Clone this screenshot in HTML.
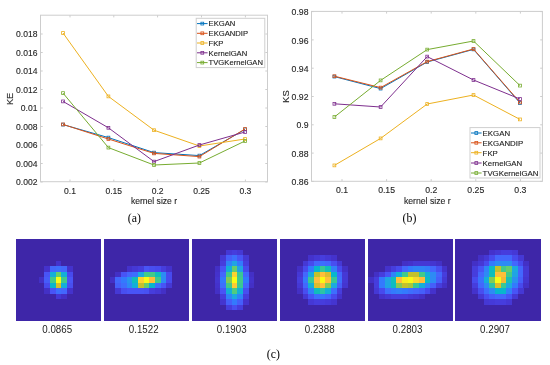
<!DOCTYPE html>
<html><head><meta charset="utf-8"><title>Figure</title>
<style>
html,body{margin:0;padding:0;background:#fff;}
body{width:550px;height:365px;overflow:hidden;}
svg{display:block;}
.t{font-family:"Liberation Sans",Arial,Helvetica,sans-serif;fill:#262626;stroke:#262626;stroke-width:.12px;}
.s{font-family:"Liberation Serif","Times New Roman",serif;fill:#000;}
.l{font-family:"Liberation Sans",Arial,sans-serif;fill:#1c1c1c;}
</style></head><body>
<svg width="550" height="365" viewBox="0 0 550 365">
<rect width="550" height="365" fill="#fff"/>

<g fill="none" stroke="#cdcdcd" stroke-width="1">
<rect x="40.5" y="15.2" width="227.0" height="166.5"/>
<path d="M70 181.7v-2.2M70 15.2v2.2M113.8 181.7v-2.2M113.8 15.2v2.2M157.6 181.7v-2.2M157.6 15.2v2.2M201.5 181.7v-2.2M201.5 15.2v2.2M245.4 181.7v-2.2M245.4 15.2v2.2M40.5 182.0h2.2M267.5 182.0h-2.2M40.5 163.5h2.2M267.5 163.5h-2.2M40.5 145.0h2.2M267.5 145.0h-2.2M40.5 126.5h2.2M267.5 126.5h-2.2M40.5 108.0h2.2M267.5 108.0h-2.2M40.5 89.5h2.2M267.5 89.5h-2.2M40.5 71.0h2.2M267.5 71.0h-2.2M40.5 52.5h2.2M267.5 52.5h-2.2M40.5 34.0h2.2M267.5 34.0h-2.2"/></g>
<text class="t" x="37.5" y="185.0" font-size="8.55" text-anchor="end">0.002</text>
<text class="t" x="37.5" y="166.5" font-size="8.55" text-anchor="end">0.004</text>
<text class="t" x="37.5" y="148.0" font-size="8.55" text-anchor="end">0.006</text>
<text class="t" x="37.5" y="129.5" font-size="8.55" text-anchor="end">0.008</text>
<text class="t" x="37.5" y="111.0" font-size="8.55" text-anchor="end">0.01</text>
<text class="t" x="37.5" y="92.5" font-size="8.55" text-anchor="end">0.012</text>
<text class="t" x="37.5" y="74.0" font-size="8.55" text-anchor="end">0.014</text>
<text class="t" x="37.5" y="55.5" font-size="8.55" text-anchor="end">0.016</text>
<text class="t" x="37.5" y="37.0" font-size="8.55" text-anchor="end">0.018</text>
<text class="t" x="70" y="193.5" font-size="8.55" text-anchor="middle">0.1</text>
<text class="t" x="113.8" y="193.5" font-size="8.55" text-anchor="middle">0.15</text>
<text class="t" x="157.6" y="193.5" font-size="8.55" text-anchor="middle">0.2</text>
<text class="t" x="201.5" y="193.5" font-size="8.55" text-anchor="middle">0.25</text>
<text class="t" x="245.4" y="193.5" font-size="8.55" text-anchor="middle">0.3</text>
<text class="t" x="154" y="204.0" font-size="8.55" text-anchor="middle">kernel size r</text>
<text class="t" transform="translate(13.2 98.9) rotate(-90)" font-size="9.32" text-anchor="middle">KE</text>
<polyline points="63.0,124.6 108.4,137.6 154.0,152.6 199.4,155.6 245.0,129.4" fill="none" stroke="#0072bd" stroke-width="1" stroke-linejoin="round"/>
<rect x="61.6" y="123.2" width="2.8" height="2.8" fill="none" stroke="#0072bd" stroke-width="0.8"/>
<rect x="107.0" y="136.2" width="2.8" height="2.8" fill="none" stroke="#0072bd" stroke-width="0.8"/>
<rect x="152.6" y="151.2" width="2.8" height="2.8" fill="none" stroke="#0072bd" stroke-width="0.8"/>
<rect x="198.0" y="154.2" width="2.8" height="2.8" fill="none" stroke="#0072bd" stroke-width="0.8"/>
<rect x="243.6" y="128.0" width="2.8" height="2.8" fill="none" stroke="#0072bd" stroke-width="0.8"/>
<polyline points="63.0,124.4 108.4,139.0 154.0,153.4 199.4,156.6 245.0,129.0" fill="none" stroke="#d95319" stroke-width="1" stroke-linejoin="round"/>
<rect x="61.6" y="123.0" width="2.8" height="2.8" fill="none" stroke="#d95319" stroke-width="0.8"/>
<rect x="107.0" y="137.6" width="2.8" height="2.8" fill="none" stroke="#d95319" stroke-width="0.8"/>
<rect x="152.6" y="152.0" width="2.8" height="2.8" fill="none" stroke="#d95319" stroke-width="0.8"/>
<rect x="198.0" y="155.2" width="2.8" height="2.8" fill="none" stroke="#d95319" stroke-width="0.8"/>
<rect x="243.6" y="127.6" width="2.8" height="2.8" fill="none" stroke="#d95319" stroke-width="0.8"/>
<polyline points="63.0,33.0 108.4,96.4 154.0,130.2 199.4,146.0 245.0,139.0" fill="none" stroke="#edb120" stroke-width="1" stroke-linejoin="round"/>
<rect x="61.6" y="31.6" width="2.8" height="2.8" fill="none" stroke="#edb120" stroke-width="0.8"/>
<rect x="107.0" y="95.0" width="2.8" height="2.8" fill="none" stroke="#edb120" stroke-width="0.8"/>
<rect x="152.6" y="128.8" width="2.8" height="2.8" fill="none" stroke="#edb120" stroke-width="0.8"/>
<rect x="198.0" y="144.6" width="2.8" height="2.8" fill="none" stroke="#edb120" stroke-width="0.8"/>
<rect x="243.6" y="137.6" width="2.8" height="2.8" fill="none" stroke="#edb120" stroke-width="0.8"/>
<polyline points="63.0,101.4 108.4,127.8 154.0,161.6 199.4,145.0 245.0,132.0" fill="none" stroke="#7e2f8e" stroke-width="1" stroke-linejoin="round"/>
<rect x="61.6" y="100.0" width="2.8" height="2.8" fill="none" stroke="#7e2f8e" stroke-width="0.8"/>
<rect x="107.0" y="126.4" width="2.8" height="2.8" fill="none" stroke="#7e2f8e" stroke-width="0.8"/>
<rect x="152.6" y="160.2" width="2.8" height="2.8" fill="none" stroke="#7e2f8e" stroke-width="0.8"/>
<rect x="198.0" y="143.6" width="2.8" height="2.8" fill="none" stroke="#7e2f8e" stroke-width="0.8"/>
<rect x="243.6" y="130.6" width="2.8" height="2.8" fill="none" stroke="#7e2f8e" stroke-width="0.8"/>
<polyline points="63.0,93.1 108.4,147.6 154.0,165.0 199.4,163.0 245.0,141.0" fill="none" stroke="#77ac30" stroke-width="1" stroke-linejoin="round"/>
<rect x="61.6" y="91.7" width="2.8" height="2.8" fill="none" stroke="#77ac30" stroke-width="0.8"/>
<rect x="107.0" y="146.2" width="2.8" height="2.8" fill="none" stroke="#77ac30" stroke-width="0.8"/>
<rect x="152.6" y="163.6" width="2.8" height="2.8" fill="none" stroke="#77ac30" stroke-width="0.8"/>
<rect x="198.0" y="161.6" width="2.8" height="2.8" fill="none" stroke="#77ac30" stroke-width="0.8"/>
<rect x="243.6" y="139.6" width="2.8" height="2.8" fill="none" stroke="#77ac30" stroke-width="0.8"/>
<rect x="196.2" y="18.3" width="68.6" height="49.3" fill="#fff" stroke="#cfcfcf" stroke-width="1"/>
<path d="M197 23.6H207.6" stroke="#0072bd" stroke-width="1"/>
<rect x="200.9" y="22.2" width="2.8" height="2.8" fill="none" stroke="#0072bd" stroke-width="0.8"/>
<text class="t" x="208.6" y="26.4" font-size="7.65" style="fill:#1a1a1a">EKGAN</text>
<path d="M197 33.3H207.6" stroke="#d95319" stroke-width="1"/>
<rect x="200.9" y="31.9" width="2.8" height="2.8" fill="none" stroke="#d95319" stroke-width="0.8"/>
<text class="t" x="208.6" y="36.1" font-size="7.65" style="fill:#1a1a1a">EKGANDIP</text>
<path d="M197 43H207.6" stroke="#edb120" stroke-width="1"/>
<rect x="200.9" y="41.6" width="2.8" height="2.8" fill="none" stroke="#edb120" stroke-width="0.8"/>
<text class="t" x="208.6" y="45.8" font-size="7.65" style="fill:#1a1a1a">FKP</text>
<path d="M197 52.8H207.6" stroke="#7e2f8e" stroke-width="1"/>
<rect x="200.9" y="51.4" width="2.8" height="2.8" fill="none" stroke="#7e2f8e" stroke-width="0.8"/>
<text class="t" x="208.6" y="55.6" font-size="7.65" style="fill:#1a1a1a">KernelGAN</text>
<path d="M197 62.6H207.6" stroke="#77ac30" stroke-width="1"/>
<rect x="200.9" y="61.2" width="2.8" height="2.8" fill="none" stroke="#77ac30" stroke-width="0.8"/>
<text class="t" x="208.6" y="65.4" font-size="7.65" style="fill:#1a1a1a">TVGKernelGAN</text>
<g fill="none" stroke="#cdcdcd" stroke-width="1">
<rect x="311.5" y="11.4" width="230.9" height="169.9"/>
<path d="M342 181.3v-2.2M342 11.4v2.2M386.6 181.3v-2.2M386.6 11.4v2.2M431.2 181.3v-2.2M431.2 11.4v2.2M475.8 181.3v-2.2M475.8 11.4v2.2M520.4 181.3v-2.2M520.4 11.4v2.2M311.5 181.4h2.2M542.4 181.4h-2.2M311.5 153.1h2.2M542.4 153.1h-2.2M311.5 124.8h2.2M542.4 124.8h-2.2M311.5 96.5h2.2M542.4 96.5h-2.2M311.5 68.2h2.2M542.4 68.2h-2.2M311.5 39.9h2.2M542.4 39.9h-2.2M311.5 11.6h2.2M542.4 11.6h-2.2"/></g>
<text class="t" x="308.5" y="185.0" font-size="8.7" text-anchor="end">0.86</text>
<text class="t" x="308.5" y="156.7" font-size="8.7" text-anchor="end">0.88</text>
<text class="t" x="308.5" y="128.4" font-size="8.7" text-anchor="end">0.9</text>
<text class="t" x="308.5" y="100.1" font-size="8.7" text-anchor="end">0.92</text>
<text class="t" x="308.5" y="71.8" font-size="8.7" text-anchor="end">0.94</text>
<text class="t" x="308.5" y="43.5" font-size="8.7" text-anchor="end">0.96</text>
<text class="t" x="308.5" y="15.2" font-size="8.7" text-anchor="end">0.98</text>
<text class="t" x="342" y="193.3" font-size="8.7" text-anchor="middle">0.1</text>
<text class="t" x="386.6" y="193.3" font-size="8.7" text-anchor="middle">0.15</text>
<text class="t" x="431.2" y="193.3" font-size="8.7" text-anchor="middle">0.2</text>
<text class="t" x="475.8" y="193.3" font-size="8.7" text-anchor="middle">0.25</text>
<text class="t" x="520.4" y="193.3" font-size="8.7" text-anchor="middle">0.3</text>
<text class="t" x="427.3" y="204.0" font-size="8.7" text-anchor="middle">kernel size r</text>
<text class="t" transform="translate(288.7 96.6) rotate(-90)" font-size="9.48" text-anchor="middle">KS</text>
<polyline points="334.4,76.6 380.6,88.6 427.2,62.0 473.5,49.4 520.0,103.0" fill="none" stroke="#0072bd" stroke-width="1" stroke-linejoin="round"/>
<rect x="333.0" y="75.2" width="2.8" height="2.8" fill="none" stroke="#0072bd" stroke-width="0.8"/>
<rect x="379.2" y="87.2" width="2.8" height="2.8" fill="none" stroke="#0072bd" stroke-width="0.8"/>
<rect x="425.8" y="60.6" width="2.8" height="2.8" fill="none" stroke="#0072bd" stroke-width="0.8"/>
<rect x="472.1" y="48.0" width="2.8" height="2.8" fill="none" stroke="#0072bd" stroke-width="0.8"/>
<rect x="518.6" y="101.6" width="2.8" height="2.8" fill="none" stroke="#0072bd" stroke-width="0.8"/>
<polyline points="334.4,76.2 380.6,87.6 427.2,61.6 473.5,49.0 520.0,102.4" fill="none" stroke="#d95319" stroke-width="1" stroke-linejoin="round"/>
<rect x="333.0" y="74.8" width="2.8" height="2.8" fill="none" stroke="#d95319" stroke-width="0.8"/>
<rect x="379.2" y="86.2" width="2.8" height="2.8" fill="none" stroke="#d95319" stroke-width="0.8"/>
<rect x="425.8" y="60.2" width="2.8" height="2.8" fill="none" stroke="#d95319" stroke-width="0.8"/>
<rect x="472.1" y="47.6" width="2.8" height="2.8" fill="none" stroke="#d95319" stroke-width="0.8"/>
<rect x="518.6" y="101.0" width="2.8" height="2.8" fill="none" stroke="#d95319" stroke-width="0.8"/>
<polyline points="334.4,165.4 380.6,138.4 427.2,104.0 473.5,95.0 520.0,119.4" fill="none" stroke="#edb120" stroke-width="1" stroke-linejoin="round"/>
<rect x="333.0" y="164.0" width="2.8" height="2.8" fill="none" stroke="#edb120" stroke-width="0.8"/>
<rect x="379.2" y="137.0" width="2.8" height="2.8" fill="none" stroke="#edb120" stroke-width="0.8"/>
<rect x="425.8" y="102.6" width="2.8" height="2.8" fill="none" stroke="#edb120" stroke-width="0.8"/>
<rect x="472.1" y="93.6" width="2.8" height="2.8" fill="none" stroke="#edb120" stroke-width="0.8"/>
<rect x="518.6" y="118.0" width="2.8" height="2.8" fill="none" stroke="#edb120" stroke-width="0.8"/>
<polyline points="334.4,103.8 380.6,107.0 427.2,56.6 473.5,80.0 520.0,99.0" fill="none" stroke="#7e2f8e" stroke-width="1" stroke-linejoin="round"/>
<rect x="333.0" y="102.4" width="2.8" height="2.8" fill="none" stroke="#7e2f8e" stroke-width="0.8"/>
<rect x="379.2" y="105.6" width="2.8" height="2.8" fill="none" stroke="#7e2f8e" stroke-width="0.8"/>
<rect x="425.8" y="55.2" width="2.8" height="2.8" fill="none" stroke="#7e2f8e" stroke-width="0.8"/>
<rect x="472.1" y="78.6" width="2.8" height="2.8" fill="none" stroke="#7e2f8e" stroke-width="0.8"/>
<rect x="518.6" y="97.6" width="2.8" height="2.8" fill="none" stroke="#7e2f8e" stroke-width="0.8"/>
<polyline points="334.4,117.0 380.6,80.4 427.2,49.6 473.5,41.0 520.0,85.6" fill="none" stroke="#77ac30" stroke-width="1" stroke-linejoin="round"/>
<rect x="333.0" y="115.6" width="2.8" height="2.8" fill="none" stroke="#77ac30" stroke-width="0.8"/>
<rect x="379.2" y="79.0" width="2.8" height="2.8" fill="none" stroke="#77ac30" stroke-width="0.8"/>
<rect x="425.8" y="48.2" width="2.8" height="2.8" fill="none" stroke="#77ac30" stroke-width="0.8"/>
<rect x="472.1" y="39.6" width="2.8" height="2.8" fill="none" stroke="#77ac30" stroke-width="0.8"/>
<rect x="518.6" y="84.2" width="2.8" height="2.8" fill="none" stroke="#77ac30" stroke-width="0.8"/>
<rect x="470" y="127.6" width="70.0" height="50.4" fill="#fff" stroke="#cfcfcf" stroke-width="1"/>
<path d="M471 133H481.6" stroke="#0072bd" stroke-width="1"/>
<rect x="474.9" y="131.6" width="2.8" height="2.8" fill="none" stroke="#0072bd" stroke-width="0.8"/>
<text class="t" x="482.6" y="135.8" font-size="7.85" style="fill:#1a1a1a">EKGAN</text>
<path d="M471 142.8H481.6" stroke="#d95319" stroke-width="1"/>
<rect x="474.9" y="141.4" width="2.8" height="2.8" fill="none" stroke="#d95319" stroke-width="0.8"/>
<text class="t" x="482.6" y="145.6" font-size="7.85" style="fill:#1a1a1a">EKGANDIP</text>
<path d="M471 152.7H481.6" stroke="#edb120" stroke-width="1"/>
<rect x="474.9" y="151.3" width="2.8" height="2.8" fill="none" stroke="#edb120" stroke-width="0.8"/>
<text class="t" x="482.6" y="155.5" font-size="7.85" style="fill:#1a1a1a">FKP</text>
<path d="M471 163H481.6" stroke="#7e2f8e" stroke-width="1"/>
<rect x="474.9" y="161.6" width="2.8" height="2.8" fill="none" stroke="#7e2f8e" stroke-width="0.8"/>
<text class="t" x="482.6" y="165.8" font-size="7.85" style="fill:#1a1a1a">KernelGAN</text>
<path d="M471 173H481.6" stroke="#77ac30" stroke-width="1"/>
<rect x="474.9" y="171.6" width="2.8" height="2.8" fill="none" stroke="#77ac30" stroke-width="0.8"/>
<text class="t" x="482.6" y="175.8" font-size="7.85" style="fill:#1a1a1a">TVGKernelGAN</text>
<text class="s" x="134.4" y="221.8" font-size="11.8" text-anchor="middle">(a)</text>
<text class="s" x="409.5" y="221.8" font-size="11.8" text-anchor="middle">(b)</text>
<text class="s" x="273.4" y="358.4" font-size="11.8" text-anchor="middle">(c)</text>
<g shape-rendering="crispEdges"><rect x="16.0" y="239.0" width="85.2" height="82.2" fill="#3e26a8"/>
<rect x="55.76" y="260.92" width="5.73" height="5.53" fill="#4432cc"/>
<rect x="44.40" y="266.40" width="5.73" height="5.53" fill="#4432cc"/>
<rect x="50.08" y="266.40" width="5.73" height="5.53" fill="#4367fd"/>
<rect x="55.76" y="266.40" width="5.73" height="5.53" fill="#3d6ffd"/>
<rect x="61.44" y="266.40" width="5.73" height="5.53" fill="#4367fd"/>
<rect x="67.12" y="266.40" width="5.73" height="5.53" fill="#4432cc"/>
<rect x="44.40" y="271.88" width="5.73" height="5.53" fill="#4854f6"/>
<rect x="50.08" y="271.88" width="5.73" height="5.53" fill="#14afd8"/>
<rect x="55.76" y="271.88" width="5.73" height="5.53" fill="#67cd6c"/>
<rect x="61.44" y="271.88" width="5.73" height="5.53" fill="#14afd8"/>
<rect x="67.12" y="271.88" width="5.73" height="5.53" fill="#474aee"/>
<rect x="38.72" y="277.36" width="5.73" height="5.53" fill="#4330c6"/>
<rect x="44.40" y="277.36" width="5.73" height="5.53" fill="#465cf9"/>
<rect x="50.08" y="277.36" width="5.73" height="5.53" fill="#42ca8a"/>
<rect x="55.76" y="277.36" width="5.73" height="5.53" fill="#f9fb15"/>
<rect x="61.44" y="277.36" width="5.73" height="5.53" fill="#42ca8a"/>
<rect x="67.12" y="277.36" width="5.73" height="5.53" fill="#4854f6"/>
<rect x="44.40" y="282.84" width="5.73" height="5.53" fill="#474aee"/>
<rect x="50.08" y="282.84" width="5.73" height="5.53" fill="#08b6cd"/>
<rect x="55.76" y="282.84" width="5.73" height="5.53" fill="#d2be2e"/>
<rect x="61.44" y="282.84" width="5.73" height="5.53" fill="#14afd8"/>
<rect x="67.12" y="282.84" width="5.73" height="5.53" fill="#484ef0"/>
<rect x="44.40" y="288.32" width="5.73" height="5.53" fill="#4330c6"/>
<rect x="50.08" y="288.32" width="5.73" height="5.53" fill="#4854f6"/>
<rect x="55.76" y="288.32" width="5.73" height="5.53" fill="#3d6ffd"/>
<rect x="61.44" y="288.32" width="5.73" height="5.53" fill="#4367fd"/>
<rect x="67.12" y="288.32" width="5.73" height="5.53" fill="#4432cc"/>
<rect x="55.76" y="293.80" width="5.73" height="5.53" fill="#4538d5"/>
<rect x="61.44" y="293.80" width="5.73" height="5.53" fill="#4330c6"/>
</g>
<text class="l" x="57.2" y="333.4" font-size="10.5" textLength="29.8" lengthAdjust="spacingAndGlyphs" text-anchor="middle">0.0865</text>
<g shape-rendering="crispEdges"><rect x="104.1" y="239.0" width="84.9" height="82.2" fill="#3e26a8"/>
<rect x="126.74" y="266.40" width="5.71" height="5.53" fill="#4432cc"/>
<rect x="132.40" y="266.40" width="5.71" height="5.53" fill="#4538d5"/>
<rect x="138.06" y="266.40" width="5.71" height="5.53" fill="#463ddd"/>
<rect x="143.72" y="266.40" width="5.71" height="5.53" fill="#4854f6"/>
<rect x="149.38" y="266.40" width="5.71" height="5.53" fill="#484ef0"/>
<rect x="155.04" y="266.40" width="5.71" height="5.53" fill="#474aee"/>
<rect x="160.70" y="266.40" width="5.71" height="5.53" fill="#463ddd"/>
<rect x="166.36" y="266.40" width="5.71" height="5.53" fill="#4432cc"/>
<rect x="115.42" y="271.88" width="5.71" height="5.53" fill="#4330c6"/>
<rect x="121.08" y="271.88" width="5.71" height="5.53" fill="#4854f6"/>
<rect x="126.74" y="271.88" width="5.71" height="5.53" fill="#4367fd"/>
<rect x="132.40" y="271.88" width="5.71" height="5.53" fill="#3d6ffd"/>
<rect x="138.06" y="271.88" width="5.71" height="5.53" fill="#1caadf"/>
<rect x="143.72" y="271.88" width="5.71" height="5.53" fill="#42ca8a"/>
<rect x="149.38" y="271.88" width="5.71" height="5.53" fill="#42ca8a"/>
<rect x="155.04" y="271.88" width="5.71" height="5.53" fill="#10beba"/>
<rect x="160.70" y="271.88" width="5.71" height="5.53" fill="#2d8bf4"/>
<rect x="166.36" y="271.88" width="5.71" height="5.53" fill="#474aee"/>
<rect x="109.76" y="277.36" width="5.71" height="5.53" fill="#4330c6"/>
<rect x="115.42" y="277.36" width="5.71" height="5.53" fill="#4367fd"/>
<rect x="121.08" y="277.36" width="5.71" height="5.53" fill="#337afd"/>
<rect x="126.74" y="277.36" width="5.71" height="5.53" fill="#2895ed"/>
<rect x="132.40" y="277.36" width="5.71" height="5.53" fill="#10beba"/>
<rect x="138.06" y="277.36" width="5.71" height="5.53" fill="#fcd230"/>
<rect x="143.72" y="277.36" width="5.71" height="5.53" fill="#f9fb15"/>
<rect x="149.38" y="277.36" width="5.71" height="5.53" fill="#febe3a"/>
<rect x="155.04" y="277.36" width="5.71" height="5.53" fill="#42ca8a"/>
<rect x="160.70" y="277.36" width="5.71" height="5.53" fill="#2d8bf4"/>
<rect x="166.36" y="277.36" width="5.71" height="5.53" fill="#474aee"/>
<rect x="115.42" y="282.84" width="5.71" height="5.53" fill="#455ffa"/>
<rect x="121.08" y="282.84" width="5.71" height="5.53" fill="#3d6ffd"/>
<rect x="126.74" y="282.84" width="5.71" height="5.53" fill="#2d8bf4"/>
<rect x="132.40" y="282.84" width="5.71" height="5.53" fill="#14afd8"/>
<rect x="138.06" y="282.84" width="5.71" height="5.53" fill="#c3c12d"/>
<rect x="143.72" y="282.84" width="5.71" height="5.53" fill="#67cd6c"/>
<rect x="149.38" y="282.84" width="5.71" height="5.53" fill="#08b6cd"/>
<rect x="155.04" y="282.84" width="5.71" height="5.53" fill="#3d6ffd"/>
<rect x="160.70" y="282.84" width="5.71" height="5.53" fill="#4854f6"/>
<rect x="166.36" y="282.84" width="5.71" height="5.53" fill="#4538d5"/>
<rect x="115.42" y="288.32" width="5.71" height="5.53" fill="#4538d5"/>
<rect x="121.08" y="288.32" width="5.71" height="5.53" fill="#484ef0"/>
<rect x="126.74" y="288.32" width="5.71" height="5.53" fill="#4854f6"/>
<rect x="132.40" y="288.32" width="5.71" height="5.53" fill="#4854f6"/>
<rect x="138.06" y="288.32" width="5.71" height="5.53" fill="#4854f6"/>
<rect x="143.72" y="288.32" width="5.71" height="5.53" fill="#4851f3"/>
<rect x="149.38" y="288.32" width="5.71" height="5.53" fill="#463ddd"/>
<rect x="155.04" y="288.32" width="5.71" height="5.53" fill="#4538d5"/>
<rect x="160.70" y="288.32" width="5.71" height="5.53" fill="#4330c6"/>
</g>
<text class="l" x="143.7" y="333.4" font-size="10.5" textLength="29.8" lengthAdjust="spacingAndGlyphs" text-anchor="middle">0.1522</text>
<g shape-rendering="crispEdges"><rect x="192.1" y="239.0" width="84.8" height="82.2" fill="#3e26a8"/>
<rect x="226.02" y="249.96" width="5.70" height="5.53" fill="#4538d5"/>
<rect x="231.67" y="249.96" width="5.70" height="5.53" fill="#463ddd"/>
<rect x="237.33" y="249.96" width="5.70" height="5.53" fill="#4538d5"/>
<rect x="220.37" y="255.44" width="5.70" height="5.53" fill="#4538d5"/>
<rect x="226.02" y="255.44" width="5.70" height="5.53" fill="#455ffa"/>
<rect x="231.67" y="255.44" width="5.70" height="5.53" fill="#3d6ffd"/>
<rect x="237.33" y="255.44" width="5.70" height="5.53" fill="#4854f6"/>
<rect x="242.98" y="255.44" width="5.70" height="5.53" fill="#4538d5"/>
<rect x="220.37" y="260.92" width="5.70" height="5.53" fill="#463ddd"/>
<rect x="226.02" y="260.92" width="5.70" height="5.53" fill="#2f84f8"/>
<rect x="231.67" y="260.92" width="5.70" height="5.53" fill="#20a4e3"/>
<rect x="237.33" y="260.92" width="5.70" height="5.53" fill="#337afd"/>
<rect x="242.98" y="260.92" width="5.70" height="5.53" fill="#463ddd"/>
<rect x="214.71" y="266.40" width="5.70" height="5.53" fill="#4330c6"/>
<rect x="220.37" y="266.40" width="5.70" height="5.53" fill="#4854f6"/>
<rect x="226.02" y="266.40" width="5.70" height="5.53" fill="#14afd8"/>
<rect x="231.67" y="266.40" width="5.70" height="5.53" fill="#67cd6c"/>
<rect x="237.33" y="266.40" width="5.70" height="5.53" fill="#20a4e3"/>
<rect x="242.98" y="266.40" width="5.70" height="5.53" fill="#474aee"/>
<rect x="214.71" y="271.88" width="5.70" height="5.53" fill="#4432cc"/>
<rect x="220.37" y="271.88" width="5.70" height="5.53" fill="#4367fd"/>
<rect x="226.02" y="271.88" width="5.70" height="5.53" fill="#42ca8a"/>
<rect x="231.67" y="271.88" width="5.70" height="5.53" fill="#fcd230"/>
<rect x="237.33" y="271.88" width="5.70" height="5.53" fill="#39c895"/>
<rect x="242.98" y="271.88" width="5.70" height="5.53" fill="#4367fd"/>
<rect x="248.63" y="271.88" width="5.70" height="5.53" fill="#4330c6"/>
<rect x="214.71" y="277.36" width="5.70" height="5.53" fill="#4435d0"/>
<rect x="220.37" y="277.36" width="5.70" height="5.53" fill="#337afd"/>
<rect x="226.02" y="277.36" width="5.70" height="5.53" fill="#83cb55"/>
<rect x="231.67" y="277.36" width="5.70" height="5.53" fill="#f9fb15"/>
<rect x="237.33" y="277.36" width="5.70" height="5.53" fill="#42ca8a"/>
<rect x="242.98" y="277.36" width="5.70" height="5.53" fill="#337afd"/>
<rect x="248.63" y="277.36" width="5.70" height="5.53" fill="#4432cc"/>
<rect x="214.71" y="282.84" width="5.70" height="5.53" fill="#4432cc"/>
<rect x="220.37" y="282.84" width="5.70" height="5.53" fill="#3d6ffd"/>
<rect x="226.02" y="282.84" width="5.70" height="5.53" fill="#42ca8a"/>
<rect x="231.67" y="282.84" width="5.70" height="5.53" fill="#fdca34"/>
<rect x="237.33" y="282.84" width="5.70" height="5.53" fill="#39c895"/>
<rect x="242.98" y="282.84" width="5.70" height="5.53" fill="#4367fd"/>
<rect x="248.63" y="282.84" width="5.70" height="5.53" fill="#4330c6"/>
<rect x="214.71" y="288.32" width="5.70" height="5.53" fill="#4330c6"/>
<rect x="220.37" y="288.32" width="5.70" height="5.53" fill="#4854f6"/>
<rect x="226.02" y="288.32" width="5.70" height="5.53" fill="#14afd8"/>
<rect x="231.67" y="288.32" width="5.70" height="5.53" fill="#51cb7e"/>
<rect x="237.33" y="288.32" width="5.70" height="5.53" fill="#14afd8"/>
<rect x="242.98" y="288.32" width="5.70" height="5.53" fill="#484ef0"/>
<rect x="220.37" y="293.80" width="5.70" height="5.53" fill="#463ddd"/>
<rect x="226.02" y="293.80" width="5.70" height="5.53" fill="#2f84f8"/>
<rect x="231.67" y="293.80" width="5.70" height="5.53" fill="#1caadf"/>
<rect x="237.33" y="293.80" width="5.70" height="5.53" fill="#2f84f8"/>
<rect x="242.98" y="293.80" width="5.70" height="5.53" fill="#463ddd"/>
<rect x="220.37" y="299.28" width="5.70" height="5.53" fill="#4435d0"/>
<rect x="226.02" y="299.28" width="5.70" height="5.53" fill="#455ffa"/>
<rect x="231.67" y="299.28" width="5.70" height="5.53" fill="#337afd"/>
<rect x="237.33" y="299.28" width="5.70" height="5.53" fill="#455ffa"/>
<rect x="242.98" y="299.28" width="5.70" height="5.53" fill="#4432cc"/>
<rect x="226.02" y="304.76" width="5.70" height="5.53" fill="#463ddd"/>
<rect x="231.67" y="304.76" width="5.70" height="5.53" fill="#484ef0"/>
<rect x="237.33" y="304.76" width="5.70" height="5.53" fill="#463ddd"/>
</g>
<text class="l" x="231.7" y="333.4" font-size="10.5" textLength="29.8" lengthAdjust="spacingAndGlyphs" text-anchor="middle">0.1903</text>
<g shape-rendering="crispEdges"><rect x="280.0" y="239.0" width="84.9" height="82.2" fill="#3e26a8"/>
<rect x="308.30" y="255.44" width="5.71" height="5.53" fill="#4432cc"/>
<rect x="313.96" y="255.44" width="5.71" height="5.53" fill="#4538d5"/>
<rect x="319.62" y="255.44" width="5.71" height="5.53" fill="#463ddd"/>
<rect x="325.28" y="255.44" width="5.71" height="5.53" fill="#4538d5"/>
<rect x="330.94" y="255.44" width="5.71" height="5.53" fill="#4432cc"/>
<rect x="302.64" y="260.92" width="5.71" height="5.53" fill="#4538d5"/>
<rect x="308.30" y="260.92" width="5.71" height="5.53" fill="#474aee"/>
<rect x="313.96" y="260.92" width="5.71" height="5.53" fill="#4367fd"/>
<rect x="319.62" y="260.92" width="5.71" height="5.53" fill="#3d6ffd"/>
<rect x="325.28" y="260.92" width="5.71" height="5.53" fill="#4367fd"/>
<rect x="330.94" y="260.92" width="5.71" height="5.53" fill="#484ef0"/>
<rect x="336.60" y="260.92" width="5.71" height="5.53" fill="#4538d5"/>
<rect x="296.98" y="266.40" width="5.71" height="5.53" fill="#4330c6"/>
<rect x="302.64" y="266.40" width="5.71" height="5.53" fill="#474aee"/>
<rect x="308.30" y="266.40" width="5.71" height="5.53" fill="#337afd"/>
<rect x="313.96" y="266.40" width="5.71" height="5.53" fill="#08b6cd"/>
<rect x="319.62" y="266.40" width="5.71" height="5.53" fill="#39c895"/>
<rect x="325.28" y="266.40" width="5.71" height="5.53" fill="#10beba"/>
<rect x="330.94" y="266.40" width="5.71" height="5.53" fill="#3181f9"/>
<rect x="336.60" y="266.40" width="5.71" height="5.53" fill="#474aee"/>
<rect x="342.26" y="266.40" width="5.71" height="5.53" fill="#4330c6"/>
<rect x="296.98" y="271.88" width="5.71" height="5.53" fill="#4538d5"/>
<rect x="302.64" y="271.88" width="5.71" height="5.53" fill="#4367fd"/>
<rect x="308.30" y="271.88" width="5.71" height="5.53" fill="#1caadf"/>
<rect x="313.96" y="271.88" width="5.71" height="5.53" fill="#c3c12d"/>
<rect x="319.62" y="271.88" width="5.71" height="5.53" fill="#febe3a"/>
<rect x="325.28" y="271.88" width="5.71" height="5.53" fill="#dabc2f"/>
<rect x="330.94" y="271.88" width="5.71" height="5.53" fill="#08b6cd"/>
<rect x="336.60" y="271.88" width="5.71" height="5.53" fill="#4367fd"/>
<rect x="342.26" y="271.88" width="5.71" height="5.53" fill="#4538d5"/>
<rect x="296.98" y="277.36" width="5.71" height="5.53" fill="#463ddd"/>
<rect x="302.64" y="277.36" width="5.71" height="5.53" fill="#337afd"/>
<rect x="308.30" y="277.36" width="5.71" height="5.53" fill="#39c895"/>
<rect x="313.96" y="277.36" width="5.71" height="5.53" fill="#febe3a"/>
<rect x="319.62" y="277.36" width="5.71" height="5.53" fill="#f9fb15"/>
<rect x="325.28" y="277.36" width="5.71" height="5.53" fill="#febe3a"/>
<rect x="330.94" y="277.36" width="5.71" height="5.53" fill="#39c895"/>
<rect x="336.60" y="277.36" width="5.71" height="5.53" fill="#3d6ffd"/>
<rect x="342.26" y="277.36" width="5.71" height="5.53" fill="#4538d5"/>
<rect x="296.98" y="282.84" width="5.71" height="5.53" fill="#4538d5"/>
<rect x="302.64" y="282.84" width="5.71" height="5.53" fill="#4367fd"/>
<rect x="308.30" y="282.84" width="5.71" height="5.53" fill="#14afd8"/>
<rect x="313.96" y="282.84" width="5.71" height="5.53" fill="#dabc2f"/>
<rect x="319.62" y="282.84" width="5.71" height="5.53" fill="#febe3a"/>
<rect x="325.28" y="282.84" width="5.71" height="5.53" fill="#83cb55"/>
<rect x="330.94" y="282.84" width="5.71" height="5.53" fill="#1caadf"/>
<rect x="336.60" y="282.84" width="5.71" height="5.53" fill="#455ffa"/>
<rect x="342.26" y="282.84" width="5.71" height="5.53" fill="#4435d0"/>
<rect x="296.98" y="288.32" width="5.71" height="5.53" fill="#4330c6"/>
<rect x="302.64" y="288.32" width="5.71" height="5.53" fill="#484ef0"/>
<rect x="308.30" y="288.32" width="5.71" height="5.53" fill="#3181f9"/>
<rect x="313.96" y="288.32" width="5.71" height="5.53" fill="#10beba"/>
<rect x="319.62" y="288.32" width="5.71" height="5.53" fill="#2cc4a6"/>
<rect x="325.28" y="288.32" width="5.71" height="5.53" fill="#14afd8"/>
<rect x="330.94" y="288.32" width="5.71" height="5.53" fill="#3d6ffd"/>
<rect x="336.60" y="288.32" width="5.71" height="5.53" fill="#463ddd"/>
<rect x="302.64" y="293.80" width="5.71" height="5.53" fill="#4538d5"/>
<rect x="308.30" y="293.80" width="5.71" height="5.53" fill="#4854f6"/>
<rect x="313.96" y="293.80" width="5.71" height="5.53" fill="#3d6ffd"/>
<rect x="319.62" y="293.80" width="5.71" height="5.53" fill="#3676fd"/>
<rect x="325.28" y="293.80" width="5.71" height="5.53" fill="#4367fd"/>
<rect x="330.94" y="293.80" width="5.71" height="5.53" fill="#474aee"/>
<rect x="336.60" y="293.80" width="5.71" height="5.53" fill="#4432cc"/>
<rect x="308.30" y="299.28" width="5.71" height="5.53" fill="#4538d5"/>
<rect x="313.96" y="299.28" width="5.71" height="5.53" fill="#463ddd"/>
<rect x="319.62" y="299.28" width="5.71" height="5.53" fill="#463ddd"/>
<rect x="325.28" y="299.28" width="5.71" height="5.53" fill="#453ad9"/>
<rect x="330.94" y="299.28" width="5.71" height="5.53" fill="#4435d0"/>
</g>
<text class="l" x="319.7" y="333.4" font-size="10.5" textLength="29.8" lengthAdjust="spacingAndGlyphs" text-anchor="middle">0.2388</text>
<g shape-rendering="crispEdges"><rect x="367.9" y="239.0" width="85.0" height="82.2" fill="#3e26a8"/>
<rect x="401.90" y="260.92" width="5.72" height="5.53" fill="#4330c6"/>
<rect x="407.57" y="260.92" width="5.72" height="5.53" fill="#4432cc"/>
<rect x="413.23" y="260.92" width="5.72" height="5.53" fill="#4538d5"/>
<rect x="418.90" y="260.92" width="5.72" height="5.53" fill="#4538d5"/>
<rect x="424.57" y="260.92" width="5.72" height="5.53" fill="#4538d5"/>
<rect x="430.23" y="260.92" width="5.72" height="5.53" fill="#4435d0"/>
<rect x="435.90" y="260.92" width="5.72" height="5.53" fill="#4330c6"/>
<rect x="384.90" y="266.40" width="5.72" height="5.53" fill="#4432cc"/>
<rect x="390.57" y="266.40" width="5.72" height="5.53" fill="#463ddd"/>
<rect x="396.23" y="266.40" width="5.72" height="5.53" fill="#474aee"/>
<rect x="401.90" y="266.40" width="5.72" height="5.53" fill="#4367fd"/>
<rect x="407.57" y="266.40" width="5.72" height="5.53" fill="#337afd"/>
<rect x="413.23" y="266.40" width="5.72" height="5.53" fill="#2f84f8"/>
<rect x="418.90" y="266.40" width="5.72" height="5.53" fill="#2f84f8"/>
<rect x="424.57" y="266.40" width="5.72" height="5.53" fill="#327dfb"/>
<rect x="430.23" y="266.40" width="5.72" height="5.53" fill="#4367fd"/>
<rect x="435.90" y="266.40" width="5.72" height="5.53" fill="#484ef0"/>
<rect x="441.57" y="266.40" width="5.72" height="5.53" fill="#4432cc"/>
<rect x="373.57" y="271.88" width="5.72" height="5.53" fill="#4330c6"/>
<rect x="379.23" y="271.88" width="5.72" height="5.53" fill="#463ddd"/>
<rect x="384.90" y="271.88" width="5.72" height="5.53" fill="#4854f6"/>
<rect x="390.57" y="271.88" width="5.72" height="5.53" fill="#2f84f8"/>
<rect x="396.23" y="271.88" width="5.72" height="5.53" fill="#14afd8"/>
<rect x="401.90" y="271.88" width="5.72" height="5.53" fill="#42ca8a"/>
<rect x="407.57" y="271.88" width="5.72" height="5.53" fill="#c3c12d"/>
<rect x="413.23" y="271.88" width="5.72" height="5.53" fill="#c3c12d"/>
<rect x="418.90" y="271.88" width="5.72" height="5.53" fill="#42ca8a"/>
<rect x="424.57" y="271.88" width="5.72" height="5.53" fill="#14afd8"/>
<rect x="430.23" y="271.88" width="5.72" height="5.53" fill="#2d8bf4"/>
<rect x="435.90" y="271.88" width="5.72" height="5.53" fill="#4367fd"/>
<rect x="441.57" y="271.88" width="5.72" height="5.53" fill="#463ddd"/>
<rect x="367.90" y="277.36" width="5.72" height="5.53" fill="#4330c6"/>
<rect x="373.57" y="277.36" width="5.72" height="5.53" fill="#463ddd"/>
<rect x="379.23" y="277.36" width="5.72" height="5.53" fill="#337afd"/>
<rect x="384.90" y="277.36" width="5.72" height="5.53" fill="#20a4e3"/>
<rect x="390.57" y="277.36" width="5.72" height="5.53" fill="#10beba"/>
<rect x="396.23" y="277.36" width="5.72" height="5.53" fill="#febe3a"/>
<rect x="401.90" y="277.36" width="5.72" height="5.53" fill="#f7ef1f"/>
<rect x="407.57" y="277.36" width="5.72" height="5.53" fill="#f9fb15"/>
<rect x="413.23" y="277.36" width="5.72" height="5.53" fill="#f9da2c"/>
<rect x="418.90" y="277.36" width="5.72" height="5.53" fill="#febe3a"/>
<rect x="424.57" y="277.36" width="5.72" height="5.53" fill="#0dbbc2"/>
<rect x="430.23" y="277.36" width="5.72" height="5.53" fill="#2d8bf4"/>
<rect x="435.90" y="277.36" width="5.72" height="5.53" fill="#455ffa"/>
<rect x="441.57" y="277.36" width="5.72" height="5.53" fill="#4538d5"/>
<rect x="373.57" y="282.84" width="5.72" height="5.53" fill="#463ddd"/>
<rect x="379.23" y="282.84" width="5.72" height="5.53" fill="#337afd"/>
<rect x="384.90" y="282.84" width="5.72" height="5.53" fill="#20a4e3"/>
<rect x="390.57" y="282.84" width="5.72" height="5.53" fill="#0dbbc2"/>
<rect x="396.23" y="282.84" width="5.72" height="5.53" fill="#83cb55"/>
<rect x="401.90" y="282.84" width="5.72" height="5.53" fill="#c3c12d"/>
<rect x="407.57" y="282.84" width="5.72" height="5.53" fill="#a8c63c"/>
<rect x="413.23" y="282.84" width="5.72" height="5.53" fill="#39c895"/>
<rect x="418.90" y="282.84" width="5.72" height="5.53" fill="#14afd8"/>
<rect x="424.57" y="282.84" width="5.72" height="5.53" fill="#2f84f8"/>
<rect x="430.23" y="282.84" width="5.72" height="5.53" fill="#455ffa"/>
<rect x="435.90" y="282.84" width="5.72" height="5.53" fill="#463ddd"/>
<rect x="441.57" y="282.84" width="5.72" height="5.53" fill="#4330c6"/>
<rect x="373.57" y="288.32" width="5.72" height="5.53" fill="#4538d5"/>
<rect x="379.23" y="288.32" width="5.72" height="5.53" fill="#474aee"/>
<rect x="384.90" y="288.32" width="5.72" height="5.53" fill="#3d6ffd"/>
<rect x="390.57" y="288.32" width="5.72" height="5.53" fill="#337afd"/>
<rect x="396.23" y="288.32" width="5.72" height="5.53" fill="#3181f9"/>
<rect x="401.90" y="288.32" width="5.72" height="5.53" fill="#337afd"/>
<rect x="407.57" y="288.32" width="5.72" height="5.53" fill="#3d6ffd"/>
<rect x="413.23" y="288.32" width="5.72" height="5.53" fill="#4367fd"/>
<rect x="418.90" y="288.32" width="5.72" height="5.53" fill="#455ffa"/>
<rect x="424.57" y="288.32" width="5.72" height="5.53" fill="#474aee"/>
<rect x="430.23" y="288.32" width="5.72" height="5.53" fill="#4432cc"/>
<rect x="379.23" y="293.80" width="5.72" height="5.53" fill="#4432cc"/>
<rect x="384.90" y="293.80" width="5.72" height="5.53" fill="#4538d5"/>
<rect x="390.57" y="293.80" width="5.72" height="5.53" fill="#463ddd"/>
<rect x="396.23" y="293.80" width="5.72" height="5.53" fill="#463ddd"/>
<rect x="401.90" y="293.80" width="5.72" height="5.53" fill="#463ddd"/>
<rect x="407.57" y="293.80" width="5.72" height="5.53" fill="#4538d5"/>
<rect x="413.23" y="293.80" width="5.72" height="5.53" fill="#4435d0"/>
<rect x="418.90" y="293.80" width="5.72" height="5.53" fill="#4330c6"/>
</g>
<text class="l" x="407.5" y="333.4" font-size="10.5" textLength="29.8" lengthAdjust="spacingAndGlyphs" text-anchor="middle">0.2803</text>
<g shape-rendering="crispEdges"><rect x="455.3" y="239.0" width="85.2" height="82.2" fill="#3e26a8"/>
<rect x="489.38" y="249.96" width="5.73" height="5.53" fill="#4432cc"/>
<rect x="495.06" y="249.96" width="5.73" height="5.53" fill="#4538d5"/>
<rect x="500.74" y="249.96" width="5.73" height="5.53" fill="#463ddd"/>
<rect x="506.42" y="249.96" width="5.73" height="5.53" fill="#463ddd"/>
<rect x="512.10" y="249.96" width="5.73" height="5.53" fill="#4538d5"/>
<rect x="478.02" y="255.44" width="5.73" height="5.53" fill="#4330c6"/>
<rect x="483.70" y="255.44" width="5.73" height="5.53" fill="#4538d5"/>
<rect x="489.38" y="255.44" width="5.73" height="5.53" fill="#474aee"/>
<rect x="495.06" y="255.44" width="5.73" height="5.53" fill="#4367fd"/>
<rect x="500.74" y="255.44" width="5.73" height="5.53" fill="#4367fd"/>
<rect x="506.42" y="255.44" width="5.73" height="5.53" fill="#4367fd"/>
<rect x="512.10" y="255.44" width="5.73" height="5.53" fill="#474aee"/>
<rect x="517.78" y="255.44" width="5.73" height="5.53" fill="#4538d5"/>
<rect x="472.34" y="260.92" width="5.73" height="5.53" fill="#4330c6"/>
<rect x="478.02" y="260.92" width="5.73" height="5.53" fill="#4538d5"/>
<rect x="483.70" y="260.92" width="5.73" height="5.53" fill="#474aee"/>
<rect x="489.38" y="260.92" width="5.73" height="5.53" fill="#337afd"/>
<rect x="495.06" y="260.92" width="5.73" height="5.53" fill="#2d8bf4"/>
<rect x="500.74" y="260.92" width="5.73" height="5.53" fill="#2d8bf4"/>
<rect x="506.42" y="260.92" width="5.73" height="5.53" fill="#2d8bf4"/>
<rect x="512.10" y="260.92" width="5.73" height="5.53" fill="#4367fd"/>
<rect x="517.78" y="260.92" width="5.73" height="5.53" fill="#474aee"/>
<rect x="523.46" y="260.92" width="5.73" height="5.53" fill="#4330c6"/>
<rect x="472.34" y="266.40" width="5.73" height="5.53" fill="#463ddd"/>
<rect x="478.02" y="266.40" width="5.73" height="5.53" fill="#4854f6"/>
<rect x="483.70" y="266.40" width="5.73" height="5.53" fill="#2f84f8"/>
<rect x="489.38" y="266.40" width="5.73" height="5.53" fill="#0dbbc2"/>
<rect x="495.06" y="266.40" width="5.73" height="5.53" fill="#c3c12d"/>
<rect x="500.74" y="266.40" width="5.73" height="5.53" fill="#42ca8a"/>
<rect x="506.42" y="266.40" width="5.73" height="5.53" fill="#67cd6c"/>
<rect x="512.10" y="266.40" width="5.73" height="5.53" fill="#1caadf"/>
<rect x="517.78" y="266.40" width="5.73" height="5.53" fill="#4367fd"/>
<rect x="523.46" y="266.40" width="5.73" height="5.53" fill="#4538d5"/>
<rect x="472.34" y="271.88" width="5.73" height="5.53" fill="#463ddd"/>
<rect x="478.02" y="271.88" width="5.73" height="5.53" fill="#4367fd"/>
<rect x="483.70" y="271.88" width="5.73" height="5.53" fill="#2d8bf4"/>
<rect x="489.38" y="271.88" width="5.73" height="5.53" fill="#10beba"/>
<rect x="495.06" y="271.88" width="5.73" height="5.53" fill="#febe3a"/>
<rect x="500.74" y="271.88" width="5.73" height="5.53" fill="#febe3a"/>
<rect x="506.42" y="271.88" width="5.73" height="5.53" fill="#42ca8a"/>
<rect x="512.10" y="271.88" width="5.73" height="5.53" fill="#20a4e3"/>
<rect x="517.78" y="271.88" width="5.73" height="5.53" fill="#4367fd"/>
<rect x="523.46" y="271.88" width="5.73" height="5.53" fill="#4538d5"/>
<rect x="472.34" y="277.36" width="5.73" height="5.53" fill="#474aee"/>
<rect x="478.02" y="277.36" width="5.73" height="5.53" fill="#3972fd"/>
<rect x="483.70" y="277.36" width="5.73" height="5.53" fill="#14afd8"/>
<rect x="489.38" y="277.36" width="5.73" height="5.53" fill="#83cb55"/>
<rect x="495.06" y="277.36" width="5.73" height="5.53" fill="#f9fb15"/>
<rect x="500.74" y="277.36" width="5.73" height="5.53" fill="#f1bb34"/>
<rect x="506.42" y="277.36" width="5.73" height="5.53" fill="#1bc0b2"/>
<rect x="512.10" y="277.36" width="5.73" height="5.53" fill="#2a91ef"/>
<rect x="517.78" y="277.36" width="5.73" height="5.53" fill="#455ffa"/>
<rect x="523.46" y="277.36" width="5.73" height="5.53" fill="#4435d0"/>
<rect x="472.34" y="282.84" width="5.73" height="5.53" fill="#463ddd"/>
<rect x="478.02" y="282.84" width="5.73" height="5.53" fill="#4367fd"/>
<rect x="483.70" y="282.84" width="5.73" height="5.53" fill="#2d8bf4"/>
<rect x="489.38" y="282.84" width="5.73" height="5.53" fill="#2cc4a6"/>
<rect x="495.06" y="282.84" width="5.73" height="5.53" fill="#dabc2f"/>
<rect x="500.74" y="282.84" width="5.73" height="5.53" fill="#39c895"/>
<rect x="506.42" y="282.84" width="5.73" height="5.53" fill="#1caadf"/>
<rect x="512.10" y="282.84" width="5.73" height="5.53" fill="#337afd"/>
<rect x="517.78" y="282.84" width="5.73" height="5.53" fill="#474aee"/>
<rect x="523.46" y="282.84" width="5.73" height="5.53" fill="#4330c6"/>
<rect x="472.34" y="288.32" width="5.73" height="5.53" fill="#4432cc"/>
<rect x="478.02" y="288.32" width="5.73" height="5.53" fill="#484ef0"/>
<rect x="483.70" y="288.32" width="5.73" height="5.53" fill="#3d6ffd"/>
<rect x="489.38" y="288.32" width="5.73" height="5.53" fill="#2d8bf4"/>
<rect x="495.06" y="288.32" width="5.73" height="5.53" fill="#08b6cd"/>
<rect x="500.74" y="288.32" width="5.73" height="5.53" fill="#08b6cd"/>
<rect x="506.42" y="288.32" width="5.73" height="5.53" fill="#3181f9"/>
<rect x="512.10" y="288.32" width="5.73" height="5.53" fill="#4854f6"/>
<rect x="517.78" y="288.32" width="5.73" height="5.53" fill="#4538d5"/>
<rect x="478.02" y="293.80" width="5.73" height="5.53" fill="#4538d5"/>
<rect x="483.70" y="293.80" width="5.73" height="5.53" fill="#484ef0"/>
<rect x="489.38" y="293.80" width="5.73" height="5.53" fill="#455ffa"/>
<rect x="495.06" y="293.80" width="5.73" height="5.53" fill="#4367fd"/>
<rect x="500.74" y="293.80" width="5.73" height="5.53" fill="#4367fd"/>
<rect x="506.42" y="293.80" width="5.73" height="5.53" fill="#4854f6"/>
<rect x="512.10" y="293.80" width="5.73" height="5.53" fill="#4538d5"/>
<rect x="483.70" y="299.28" width="5.73" height="5.53" fill="#4538d5"/>
<rect x="489.38" y="299.28" width="5.73" height="5.53" fill="#453ad9"/>
<rect x="495.06" y="299.28" width="5.73" height="5.53" fill="#463ddd"/>
<rect x="500.74" y="299.28" width="5.73" height="5.53" fill="#463ddd"/>
<rect x="506.42" y="299.28" width="5.73" height="5.53" fill="#4538d5"/>
</g>
<text class="l" x="495.0" y="333.4" font-size="10.5" textLength="29.8" lengthAdjust="spacingAndGlyphs" text-anchor="middle">0.2907</text>
</svg></body></html>
